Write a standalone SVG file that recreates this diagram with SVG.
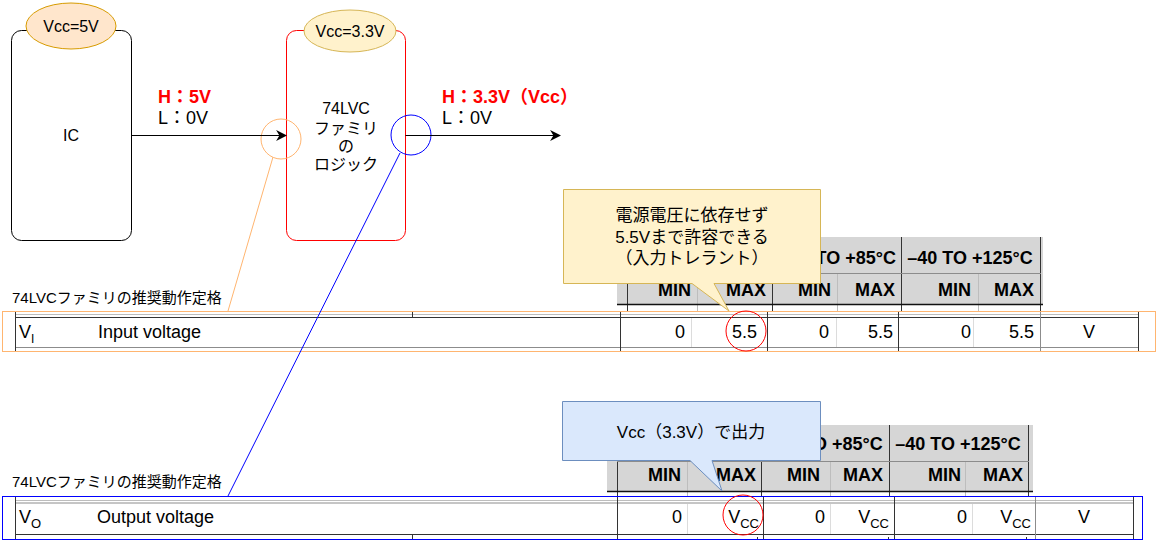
<svg xmlns="http://www.w3.org/2000/svg" width="1157" height="542" viewBox="0 0 1157 542">
<style>
text{font-family:"Liberation Sans","Noto Sans CJK JP",Arial,sans-serif;fill:#000}
.t15{font-size:15px}
.t16{font-size:16px}
.t17{font-size:17px}
.t18{font-size:18px}
.b{font-weight:bold}
.red{fill:#ff0000}
.mid{text-anchor:middle}
.end{text-anchor:end}
.hdr{fill:#d6d6d6;stroke:none}
.dk{stroke:#333;stroke-width:1;fill:none}
.lt{stroke:#bdbdbd;stroke-width:1;fill:none}
.vl{stroke:#dcdcdc;stroke-width:1;fill:none}
.gr{stroke:#8c8c8c;stroke-width:1;fill:none}
</style>
<defs>
<marker id="arr" viewBox="0 0 10 10" refX="9" refY="5" markerWidth="11" markerHeight="11" markerUnits="userSpaceOnUse" orient="auto">
<path d="M0,0 L10,5 L0,10 L3,5 Z" fill="#000"/>
</marker>
</defs>
<rect width="1157" height="542" fill="#fff"/>

<g id="ic">
<rect x="11.5" y="30.5" width="120" height="210" rx="10" fill="#fff" stroke="#000"/>
<text class="t16 mid" x="71" y="141">IC</text>
</g>
<g id="vcc5">
<ellipse cx="71" cy="26" rx="45" ry="23" fill="#ffe6cc" stroke="#d79b00"/>
<text class="t16 mid" x="71" y="31.5">Vcc=5V</text>
</g>
<g id="lvc">
<rect x="286.5" y="30.5" width="119" height="210" rx="10" fill="#fff" stroke="#ff0000"/>
<text class="t16 mid" x="346" y="114">74LVC</text>
<text class="t16 mid" x="346" y="134">ファミリ</text>
<text class="t16 mid" x="346" y="152">の</text>
<text class="t16 mid" x="346" y="170">ロジック</text>
</g>
<g id="vcc33">
<ellipse cx="350" cy="31" rx="46" ry="21" fill="#fff2cc" stroke="#d6b656"/>
<text class="t16 mid" x="350" y="36.5">Vcc=3.3V</text>
</g>
<g id="label-in">
<text class="t18 b red" x="158" y="103">H：5V</text>
<text class="t18" x="158" y="124">L：0V</text>
</g>
<g id="label-out">
<text class="t18 b red" x="442" y="103">H：3.3V（Vcc）</text>
<text class="t18" x="442" y="124">L：0V</text>
</g>

<!-- table 1 -->
<g id="table1-label">
<text class="t15" x="12" y="303">74LVCファミリの推奨動作定格</text>
</g>
<g id="table1-header">
<rect class="hdr" x="617" y="237" width="426" height="67"/>
<line class="dk" x1="627.5" y1="237" x2="627.5" y2="311"/>
<line class="lt" x1="697.5" y1="273" x2="697.5" y2="311"/>
<line class="dk" x1="772.5" y1="237" x2="772.5" y2="311"/>
<line class="lt" x1="837.5" y1="273" x2="837.5" y2="311"/>
<line class="dk" x1="901.5" y1="237" x2="901.5" y2="311"/>
<line class="lt" x1="978.5" y1="273" x2="978.5" y2="311"/>
<line class="dk" x1="1040.5" y1="237" x2="1040.5" y2="311"/>
<line class="gr" x1="627" y1="273.5" x2="1041" y2="273.5"/>
<line stroke="#111" stroke-width="1.5" x1="617" y1="304.5" x2="1043" y2="304.5"/>
<text class="t18 b end" x="896" y="263.5">–40 TO +85°C</text>
<text class="t18 b mid" x="970" y="263.5">–40 TO +125°C</text>
<text class="t18 b end" x="691" y="295.5">MIN</text>
<text class="t18 b end" x="766" y="295.5">MAX</text>
<text class="t18 b end" x="831" y="295.5">MIN</text>
<text class="t18 b end" x="895" y="295.5">MAX</text>
<text class="t18 b end" x="971" y="295.5">MIN</text>
<text class="t18 b end" x="1034" y="295.5">MAX</text>
</g>
<g id="table1-row">
<rect x="2.5" y="311.5" width="1153" height="40" fill="#fff" stroke="#ffb570"/>
<line class="lt" x1="15" y1="314.5" x2="1138" y2="314.5"/>
<line class="dk" x1="15" y1="317.5" x2="1138" y2="317.5"/>
<line class="gr" x1="15" y1="347.5" x2="1138" y2="347.5"/>
<line class="dk" x1="15.5" y1="312" x2="15.5" y2="351"/>
<line class="dk" x1="412.5" y1="312" x2="412.5" y2="317"/>
<line class="dk" x1="620.5" y1="312" x2="620.5" y2="351"/>
<line class="vl" x1="691.5" y1="318" x2="691.5" y2="347"/>
<line class="dk" x1="767.5" y1="312" x2="767.5" y2="351"/>
<line class="vl" x1="836.5" y1="318" x2="836.5" y2="347"/>
<line class="dk" x1="898.5" y1="312" x2="898.5" y2="351"/>
<line class="vl" x1="973.5" y1="318" x2="973.5" y2="347"/>
<line class="gr" x1="1040.5" y1="312" x2="1040.5" y2="351"/>
<line class="dk" x1="1138.5" y1="312" x2="1138.5" y2="351"/>
<text class="t18" x="19" y="338">V<tspan font-size="12" dy="5">I</tspan></text>
<text class="t18" x="98" y="338">Input voltage</text>
<text class="t18 end" x="685" y="338">0</text>
<text class="t18 end" x="757" y="338">5.5</text>
<text class="t18 end" x="829" y="338">0</text>
<text class="t18 end" x="893" y="338">5.5</text>
<text class="t18 end" x="971" y="338">0</text>
<text class="t18 end" x="1034" y="338">5.5</text>
<text class="t18 mid" x="1089" y="338">V</text>
<circle cx="746" cy="331" r="20" fill="none" stroke="#ff0000"/>
</g>
<g id="callout1">
<path d="M563.5,189.5 H820.5 V283.5 H714 L729,311 L692,283.5 H563.5 Z" fill="#fff2cc" stroke="#d6b656"/>
<text class="t17 mid" x="692" y="221">電源電圧に依存せず</text>
<text class="t17 mid" x="692" y="243">5.5Vまで許容できる</text>
<text class="t17 mid" x="692" y="264">（入力トレラント）</text>
</g>

<!-- table 2 -->
<g id="table2-label">
<text class="t15" x="12" y="487">74LVCファミリの推奨動作定格</text>
</g>
<g id="table2-header">
<rect class="hdr" x="607" y="425" width="426" height="66"/>
<line class="dk" x1="617.5" y1="425" x2="617.5" y2="496"/>
<line class="lt" x1="687.5" y1="461" x2="687.5" y2="496"/>
<line class="dk" x1="761.5" y1="425" x2="761.5" y2="496"/>
<line class="lt" x1="830.5" y1="461" x2="830.5" y2="496"/>
<line class="dk" x1="889.5" y1="425" x2="889.5" y2="496"/>
<line class="lt" x1="965.5" y1="461" x2="965.5" y2="496"/>
<line class="dk" x1="1028.5" y1="425" x2="1028.5" y2="496"/>
<line class="gr" x1="617" y1="461.5" x2="1029" y2="461.5"/>
<line stroke="#111" stroke-width="1.5" x1="607" y1="491.5" x2="1033" y2="491.5"/>
<text class="t18 b mid" x="825" y="449.5">–40 TO +85°C</text>
<text class="t18 b mid" x="958" y="449.5">–40 TO +125°C</text>
<text class="t18 b end" x="681" y="480.5">MIN</text>
<text class="t18 b end" x="756" y="480.5">MAX</text>
<text class="t18 b end" x="820" y="480.5">MIN</text>
<text class="t18 b end" x="883" y="480.5">MAX</text>
<text class="t18 b end" x="961" y="480.5">MIN</text>
<text class="t18 b end" x="1023" y="480.5">MAX</text>
</g>
<g id="table2-row">
<rect x="2.5" y="496.5" width="1140" height="43" fill="#fff" stroke="#0000ff"/>
<line class="lt" x1="15" y1="500.5" x2="1133" y2="500.5"/>
<line class="gr" x1="15" y1="503" x2="1133" y2="503"/>
<line class="dk" x1="15" y1="534.5" x2="1133" y2="534.5"/>
<line class="dk" x1="15.5" y1="497" x2="15.5" y2="539"/>
<line class="dk" x1="412.5" y1="535" x2="412.5" y2="539"/>
<line class="dk" x1="617.5" y1="497" x2="617.5" y2="539"/>
<line class="vl" x1="687.5" y1="504" x2="687.5" y2="534"/>
<line class="dk" x1="763.5" y1="497" x2="763.5" y2="539"/>
<line class="vl" x1="830.5" y1="504" x2="830.5" y2="534"/>
<line class="dk" x1="894.5" y1="497" x2="894.5" y2="539"/>
<line class="vl" x1="972.5" y1="504" x2="972.5" y2="534"/>
<line class="gr" x1="1035.5" y1="497" x2="1035.5" y2="539"/>
<line class="dk" x1="1133.5" y1="497" x2="1133.5" y2="539"/>
<line class="dk" x1="757.5" y1="537" x2="757.5" y2="539"/>
<line class="dk" x1="888.5" y1="537" x2="888.5" y2="539"/>
<line class="dk" x1="1026.5" y1="537" x2="1026.5" y2="539"/>
<text class="t18" x="19" y="523">V<tspan font-size="13" dy="5">O</tspan></text>
<text class="t18" x="97" y="523">Output voltage</text>
<text class="t18 end" x="682" y="523">0</text>
<text class="t18 end" x="759" y="523">V<tspan font-size="13" dy="5">CC</tspan></text>
<text class="t18 end" x="825" y="523">0</text>
<text class="t18 end" x="889" y="523">V<tspan font-size="13" dy="5">CC</tspan></text>
<text class="t18 end" x="967" y="523">0</text>
<text class="t18 end" x="1031" y="523">V<tspan font-size="13" dy="5">CC</tspan></text>
<text class="t18 mid" x="1084" y="523">V</text>
<circle cx="743" cy="515" r="20" fill="none" stroke="#ff0000"/>
</g>
<g id="callout2">
<path d="M562.5,401.5 H820.5 V460.5 H712 L722,491 L690,460.5 H562.5 Z" fill="#dae8fc" stroke="#6c8ebf"/>
<text class="t17 mid" x="691" y="438">Vcc（3.3V）で出力</text>
</g>

<g id="marks">
<circle cx="281" cy="139" r="20" fill="none" stroke="#ffb570"/>
<circle cx="411" cy="135" r="20" fill="none" stroke="#0000ff"/>
</g>

<g id="connectors">
<line x1="131.5" y1="135.5" x2="286" y2="135.5" stroke="#000" marker-end="url(#arr)"/>
<line x1="405.5" y1="135.5" x2="560" y2="135.5" stroke="#000" marker-end="url(#arr)"/>
<line x1="273" y1="157" x2="228" y2="311" stroke="#ffb570"/>
<line x1="400" y1="153" x2="228" y2="496" stroke="#0000ff"/>
</g>
</svg>
